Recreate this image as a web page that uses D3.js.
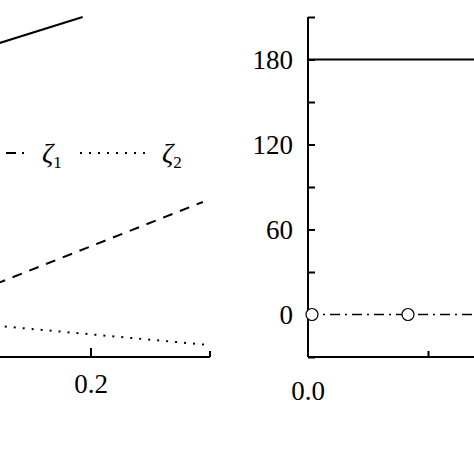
<!DOCTYPE html>
<html><head><meta charset="utf-8">
<script src="https://cdn.jsdelivr.net/npm/d3@7"></script>
<style>body{margin:0;background:#fff}text{font-family:"Liberation Serif",serif}</style>
</head><body><div id="pgm"></div>
<script>
// left panel series (x, value)
const leftSolid = [[0.12, 0.92], [0.193, 1.0]];
const leftDashed = [[0.12, 0.215], [0.294, 0.456]];
const leftDotted = [[0.12, 0.092], [0.3, 0.035]];
// right panel series
const rightSolid = [[0.0, 180], [0.2, 180]];
const rightDashDot = [[0.0, 0], [0.2, 0]];
const rightMarkers = [0.0, 0.08, 0.16];
const yTicksRight = [0, 60, 120, 180];

const W = 474, H = 474;
const svg = d3.select("#pgm").append("svg").attr("width", W).attr("height", H);

// left panel (cropped)
const xl = d3.scaleLinear().domain([0.2, 0.3]).range([91, 210]);
const yl = d3.scaleLinear().domain([0, 1]).range([357, 17]);
const gl = svg.append("g");
gl.append("line").attr("x1", 0).attr("x2", xl(0.3)).attr("y1", 357).attr("y2", 357)
  .attr("stroke", "#000").attr("stroke-width", 2);
[[0.2, 9], [0.3, 6]].forEach(([v, l]) => gl.append("line")
  .attr("x1", xl(v)).attr("x2", xl(v)).attr("y1", 357).attr("y2", 357 - l)
  .attr("stroke", "#000").attr("stroke-width", 2));
gl.append("text").attr("x", xl(0.2)).attr("y", 393).attr("text-anchor", "middle")
  .attr("font-size", 27).text("0.2");

const line = (sx, sy) => d3.line().x(d => sx(d[0])).y(d => sy(d[1]));
const lineL = line(xl, yl);
gl.append("path").attr("d", lineL(leftSolid)).attr("fill", "none").attr("stroke", "#000").attr("stroke-width", 2);
gl.append("path").attr("d", lineL(leftDashed)).attr("fill", "none").attr("stroke", "#000").attr("stroke-width", 2).attr("stroke-dasharray", "10,8");
gl.append("path").attr("d", lineL(leftDotted)).attr("fill", "none").attr("stroke", "#000").attr("stroke-width", 2).attr("stroke-dasharray", "2,7");

// legend
gl.append("line").attr("x1", 0).attr("x2", 34).attr("y1", 153).attr("y2", 153)
  .attr("stroke", "#000").attr("stroke-width", 2).attr("stroke-dasharray", "0,6,10,6,2,20");
gl.append("line").attr("x1", 80).attr("x2", 152).attr("y1", 153).attr("y2", 153)
  .attr("stroke", "#000").attr("stroke-width", 2).attr("stroke-dasharray", "2,7");
[["ζ", "1", 42], ["ζ", "2", 162]].forEach(([s, sub, x]) => {
  const t = gl.append("text").attr("x", x).attr("y", 162).attr("font-size", 28);
  t.append("tspan").attr("font-style", "italic").text(s);
  t.append("tspan").attr("font-size", 17).attr("dy", 6).text(sub);
});

// right panel
const xr = d3.scaleLinear().domain([0, 0.1]).range([308, 428]);
const yr = d3.scaleLinear().domain([-30, 210]).range([357, 17]);
const gr = svg.append("g");
gr.append("g").attr("transform", "translate(0,357)")
  .call(d3.axisBottom(xr).tickValues([0.1]).tickSize(-6).tickFormat(""))
  .call(g => g.select(".domain").attr("d", `M308,0H${W}`));
gr.append("g").attr("transform", "translate(308,0)")
  .call(d3.axisLeft(yr).tickValues(d3.range(-30, 211, 30)).tickSize(-7).tickFormat(""))
  .call(g => g.select(".domain").attr("d", `M0,${yr(210)}V357`));
gr.selectAll(".domain, .tick line").attr("stroke", "#000").attr("stroke-width", 2);
yTicksRight.forEach(v => gr.append("text").attr("x", 293).attr("y", yr(v) + 9)
  .attr("text-anchor", "end").attr("font-size", 27).text(v));
gr.append("text").attr("x", 308).attr("y", 400).attr("text-anchor", "middle").attr("font-size", 27).text("0.0");

const lineR = line(xr, yr);
gr.append("path").attr("d", lineR(rightSolid)).attr("fill", "none").attr("stroke", "#000").attr("stroke-width", 2);
gr.append("path").attr("d", lineR(rightDashDot)).attr("fill", "none").attr("stroke", "#000").attr("stroke-width", 1.5).attr("stroke-dasharray", "10,5,2,5");
gr.selectAll("circle.m").data(rightMarkers).enter().append("circle")
  .attr("cx", d => xr(d) + 4).attr("cy", yr(0)).attr("r", 6)
  .attr("fill", "#fff").attr("stroke", "#000").attr("stroke-width", 1.2);
</script></body></html>
